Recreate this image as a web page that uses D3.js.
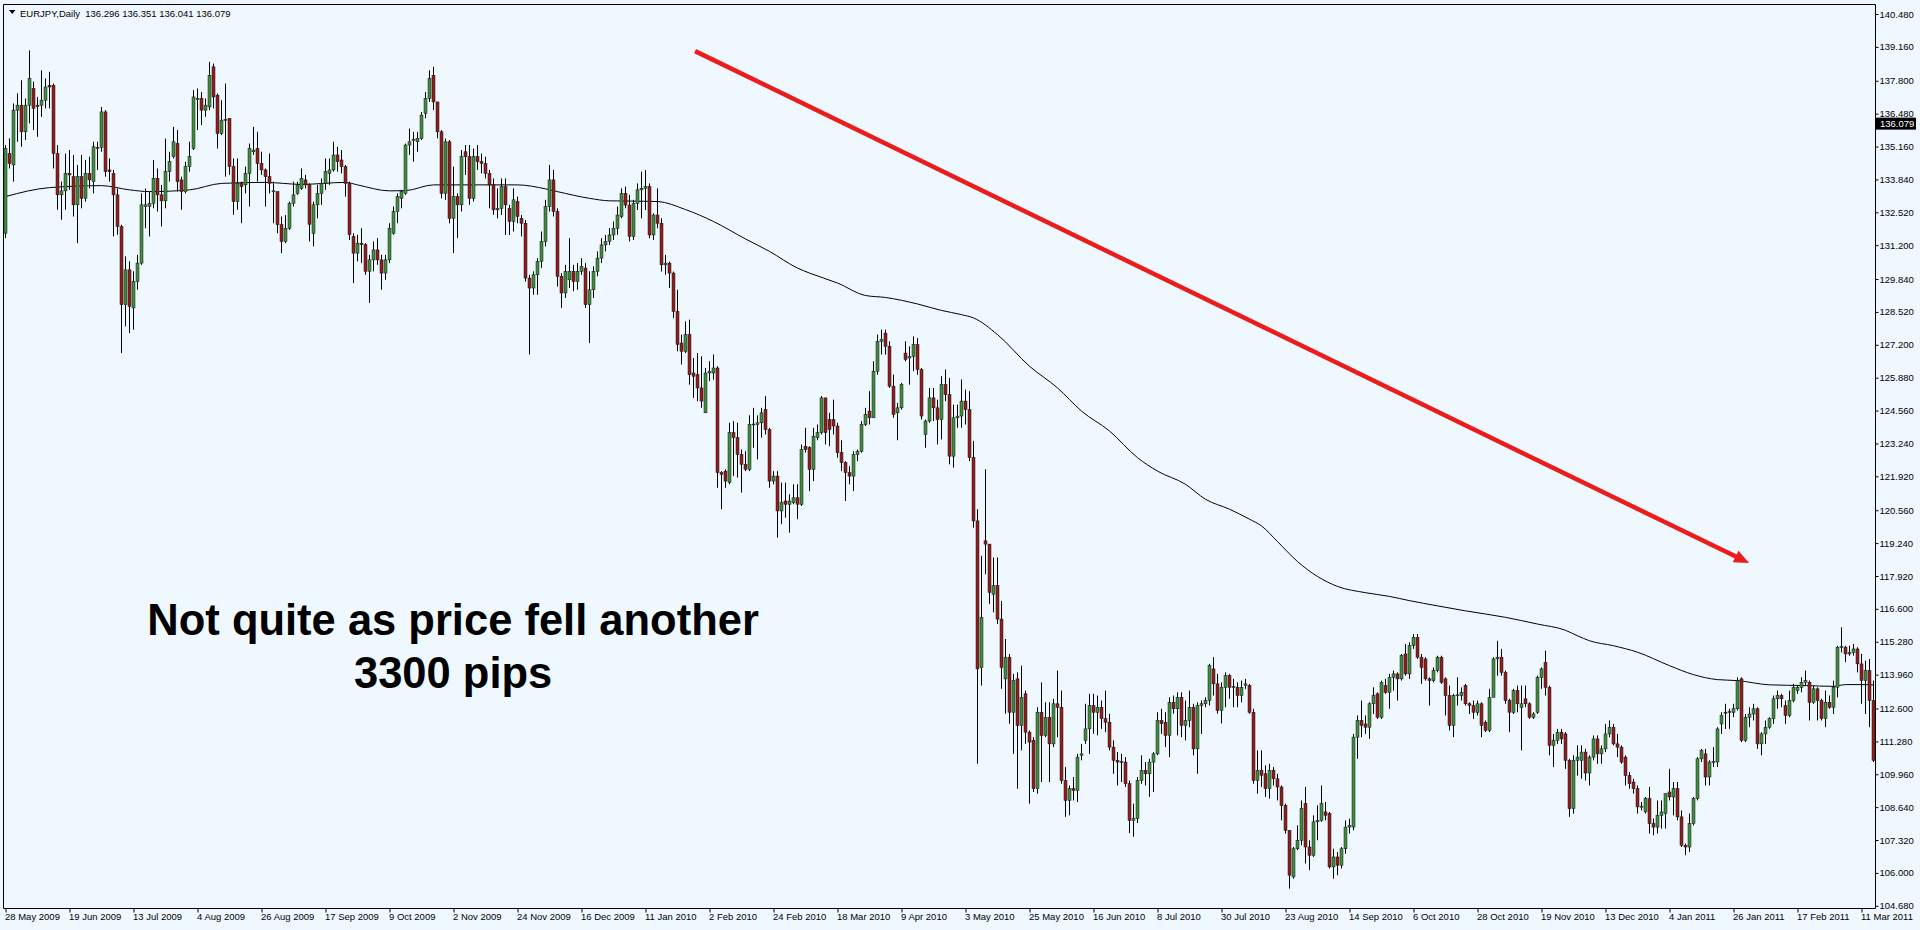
<!DOCTYPE html>
<html><head><meta charset="utf-8">
<script src="https://cdn.jsdelivr.net/npm/d3@7"></script>
<style>
html,body{margin:0;padding:0;background:#f0f8ff;overflow:hidden}
svg{display:block}
</style></head><body>
<svg id="c" width="1920" height="930"></svg>
<script>
const dateLabels = ["28 May 2009","19 Jun 2009","13 Jul 2009","4 Aug 2009","26 Aug 2009","17 Sep 2009","9 Oct 2009","2 Nov 2009","24 Nov 2009","16 Dec 2009","11 Jan 2010","2 Feb 2010","24 Feb 2010","18 Mar 2010","9 Apr 2010","3 May 2010","25 May 2010","16 Jun 2010","8 Jul 2010","30 Jul 2010","23 Aug 2010","14 Sep 2010","6 Oct 2010","28 Oct 2010","19 Nov 2010","13 Dec 2010","4 Jan 2011","26 Jan 2011","17 Feb 2011","11 Mar 2011"];
const barsPerLabel = 16;
const priceTicks = [140.48,139.16,137.8,136.48,135.16,133.84,132.52,131.2,129.84,128.52,127.2,125.88,124.56,123.24,121.92,120.56,119.24,117.92,116.6,115.28,113.96,112.6,111.28,109.96,108.64,107.32,106,104.68];
const headerSymbol = "EURJPY,Daily";
const headerQuote = "136.296 136.351 136.041 136.079";
const lastPrice = 136.079;
const noteLines = ["Not quite as price fell another", "3300 pips"];

const opens = [
131.68,134.88,134.42,136.62,136.82,135.75,136.82,137.49,136.82,136.82,
137.02,137.62,137.62,134.88,133.22,133.38,134.08,133.95,132.82,133.95,
133.08,134.08,133.75,135.12,135.12,136.55,134.22,134.08,133.22,131.95,
128.81,130.21,128.68,129.74,130.48,132.75,132.75,132.88,133.88,133.22,
132.98,134.15,134.75,135.28,133.82,133.35,134.35,135.08,137.09,137.09,
136.62,136.75,138.36,137.22,135.68,136.22,136.29,134.35,132.95,133.68,
133.62,134.08,134.95,135.08,134.48,134.22,133.95,133.35,133.35,132.02,
131.35,131.88,132.88,133.28,133.48,133.82,133.62,131.68,132.82,133.28,
133.68,134.08,134.22,134.82,134.62,134.35,133.68,131.55,130.88,131.28,
131.22,130.15,130.61,131.01,130.61,130.08,130.61,131.68,132.55,133.08,
133.28,135.22,135.42,135.35,135.48,136.49,137.09,138.02,136.95,135.75,
133.28,135.35,132.28,133.15,132.82,134.95,134.75,133.08,134.75,134.55,
134.48,134.08,133.62,132.62,132.68,133.55,132.68,132.15,132.95,132.28,
132.08,129.88,129.48,130.01,130.55,131.35,132.75,133.82,132.55,129.95,
129.28,129.81,130.15,129.74,130.15,130.28,128.81,129.41,130.15,130.68,
131.21,131.35,131.61,131.88,132.35,133.28,132.81,131.55,132.88,133.42,
133.48,133.55,131.61,132.41,132.08,130.41,130.48,130.08,128.54,127.27,
126.94,127.61,126.07,126.00,125.47,124.47,126.07,126.07,126.27,122.07,
122.13,121.67,123.67,123.47,122.80,122.40,122.20,124.00,124.00,124.07,
124.60,123.80,121.73,121.93,120.53,120.93,120.80,120.86,121.06,120.80,
123.13,123.07,122.20,123.47,123.67,125.07,124.20,124.20,123.94,122.87,
122.47,122.07,121.93,122.80,122.93,124.00,124.54,124.27,126.14,127.34,
127.67,127.14,125.54,124.47,124.67,126.87,126.67,126.74,127.21,126.21,
123.60,124.14,125.07,124.67,124.20,125.60,125.20,122.73,124.27,124.34,
124.94,124.60,122.67,120.13,114.25,119.33,119.20,117.19,117.53,116.19,
113.79,114.66,112.45,113.79,111.92,113.19,111.65,111.32,109.38,112.45,
111.52,112.25,111.18,112.79,112.65,109.71,108.91,109.38,109.31,110.72,
111.32,111.78,112.72,112.45,112.65,112.19,112.05,111.05,110.52,110.45,
110.45,109.58,108.11,108.18,109.71,110.12,109.98,110.45,110.78,112.12,
112.05,111.52,112.85,112.59,113.05,111.92,112.12,112.65,110.98,112.72,
112.79,112.92,114.19,113.59,112.52,113.45,113.92,113.45,113.45,113.12,
113.52,113.52,112.45,109.71,110.12,109.98,109.38,110.12,109.78,109.45,
108.71,107.71,105.84,106.97,107.31,108.78,107.04,106.71,108.05,108.11,
108.45,108.38,106.24,106.64,106.31,106.97,107.84,107.84,111.45,112.12,
111.98,111.85,112.79,113.19,112.25,113.52,113.25,113.85,113.99,113.79,
114.79,113.99,115.12,115.46,114.66,114.59,113.79,113.72,114.12,114.66,
113.79,113.12,111.92,113.12,113.12,113.52,112.79,112.72,112.45,112.79,
112.05,111.72,113.05,114.59,114.66,114.05,112.92,112.45,113.32,112.65,
112.99,112.79,112.25,112.45,113.85,114.45,113.45,111.12,111.32,111.65,
111.58,110.52,108.58,110.52,110.52,110.85,110.01,110.65,111.38,110.78,
110.98,111.58,111.85,111.18,111.05,110.65,109.91,109.65,109.38,108.65,
108.45,108.98,107.98,107.84,108.31,108.38,109.25,109.05,109.38,108.25,
107.11,107.04,107.98,108.98,110.58,110.78,109.85,110.45,110.45,111.98,
112.45,112.45,112.45,112.59,113.79,111.32,112.25,112.38,112.59,111.18,
111.58,111.85,112.19,112.99,113.12,112.72,112.32,112.92,113.32,113.45,
113.65,113.65,112.85,113.39,112.92,112.19,112.85,112.65,113.45,115.06,
115.06,114.79,114.85,114.99,114.39,113.72,114.12,112.92];

const highs = [
135.22,135.49,136.89,137.29,137.82,137.09,139.02,137.76,137.15,138.22,
137.89,138.16,137.69,135.22,133.75,134.88,135.02,134.82,134.42,134.82,
134.62,134.75,135.35,135.35,136.75,136.62,134.68,134.22,133.48,132.02,
130.75,130.55,130.15,130.81,133.28,133.48,133.35,134.62,134.28,133.62,
135.48,134.95,135.95,135.82,133.95,134.55,135.35,137.42,137.49,137.35,
137.09,138.56,138.49,137.29,137.02,137.69,136.29,134.68,134.68,133.75,
134.35,135.28,135.95,135.75,134.95,134.28,134.88,133.75,133.35,132.35,
132.41,132.95,133.75,133.75,134.28,134.02,133.68,132.95,133.62,133.88,
134.68,134.68,135.35,135.15,135.02,134.42,133.75,131.68,131.62,131.88,
131.28,130.81,131.35,131.48,130.81,130.81,132.08,132.75,133.28,133.42,
135.28,135.88,135.75,135.75,136.55,137.35,138.22,138.36,136.95,135.82,
135.48,135.42,134.35,133.28,135.02,135.22,135.22,135.08,135.22,134.88,
134.75,134.22,133.88,133.48,133.88,133.88,132.82,133.48,133.15,132.41,
132.21,130.01,130.15,130.68,131.75,133.02,134.42,134.22,132.68,130.08,
130.41,131.48,130.41,130.48,130.68,130.48,130.15,130.35,130.95,131.48,
131.61,131.88,132.15,132.75,133.48,133.55,133.22,133.02,133.68,134.15,
134.22,133.68,132.48,133.48,132.28,130.81,130.54,130.14,129.41,127.61,
128.14,128.21,126.67,126.87,126.74,126.27,126.54,126.81,126.34,122.13,
122.20,124.07,124.14,124.07,123.00,122.93,124.37,124.67,124.37,124.67,
125.14,123.87,122.13,122.13,121.67,121.67,121.20,121.60,121.60,123.20,
123.87,123.13,123.87,124.00,125.14,125.07,124.47,125.00,124.07,123.37,
122.53,122.33,122.93,123.00,124.14,124.67,125.34,126.54,127.61,127.81,
127.81,127.34,126.00,124.87,125.67,127.34,127.14,127.54,127.47,126.27,
124.20,125.47,125.47,125.00,125.94,126.21,125.87,124.80,124.80,125.81,
125.40,125.34,123.34,120.60,118.73,122.20,119.20,118.66,118.66,116.92,
115.39,114.79,113.99,114.05,114.32,113.32,111.72,111.45,112.65,113.65,
112.85,112.85,112.99,114.12,113.32,110.25,109.51,109.85,110.78,111.18,
112.79,113.19,113.19,113.12,112.92,113.32,112.39,111.32,110.85,110.78,
110.65,109.71,108.78,109.85,110.72,110.45,110.58,110.85,112.45,112.59,
112.45,113.05,113.12,113.25,113.25,112.92,113.32,112.79,112.85,112.92,
113.05,114.39,114.66,113.99,113.65,114.05,113.99,113.79,113.65,113.72,
113.79,113.59,112.59,110.92,110.92,110.32,110.38,110.25,109.98,109.51,
108.78,107.71,107.04,107.91,108.91,109.45,107.31,108.31,108.71,109.51,
108.85,108.45,106.97,106.84,107.04,108.11,108.18,111.58,112.32,112.92,
112.32,112.85,113.45,113.25,113.72,113.79,113.99,114.12,114.05,114.79,
115.19,115.26,115.59,115.59,114.79,114.66,113.85,114.25,114.72,114.72,
113.85,113.52,113.19,113.85,113.45,113.59,112.85,112.92,112.92,112.85,
112.12,113.39,114.66,115.32,114.99,114.12,112.99,113.39,113.52,113.52,
113.52,112.85,112.45,113.92,114.25,114.92,113.52,111.58,111.78,111.78,
111.65,110.58,110.72,111.12,111.12,110.98,110.72,111.52,111.52,111.12,
111.98,112.12,111.98,111.58,111.12,110.72,110.05,109.78,109.51,108.85,
109.05,109.45,108.18,108.91,108.91,109.18,110.18,109.65,109.65,108.51,
107.18,108.38,109.05,110.65,110.98,110.98,110.52,111.05,111.85,112.45,
112.79,112.59,112.79,113.85,113.85,112.38,112.65,112.79,112.65,111.65,
112.12,112.25,113.12,113.32,113.19,112.92,113.32,113.59,113.52,113.85,
114.12,113.72,113.52,113.45,112.99,113.32,113.12,113.72,115.12,115.86,
115.12,115.12,115.19,115.06,114.79,114.52,114.59,113.72];

const lows = [
131.48,134.28,133.75,135.35,135.15,135.42,136.09,135.82,135.55,136.35,
136.69,136.69,134.28,132.62,132.22,132.62,133.42,132.35,131.28,132.68,
132.95,133.48,133.28,134.22,134.95,133.95,133.75,131.55,131.62,126.87,
127.94,127.67,127.81,129.41,130.41,131.88,131.55,132.68,132.55,131.95,
132.68,133.75,134.68,133.35,132.62,133.28,134.15,135.02,135.82,136.02,
136.35,136.62,136.69,135.08,135.62,133.95,134.02,132.42,132.62,132.08,
133.28,132.75,134.82,133.75,134.02,132.75,133.28,132.08,131.68,130.88,
131.28,131.81,132.75,133.22,133.42,133.48,131.35,131.15,132.28,132.82,
133.42,133.62,134.15,134.15,134.08,133.15,131.41,129.68,130.55,130.48,
130.01,128.88,130.15,130.41,129.41,129.81,130.48,131.62,132.08,132.68,
133.22,134.82,134.55,134.95,135.42,136.29,136.95,136.62,135.49,133.08,
133.02,132.08,130.88,131.48,132.55,134.02,132.82,132.95,134.22,134.08,
133.88,132.68,132.42,132.28,132.41,131.61,131.61,131.75,132.08,131.55,
129.74,126.81,129.21,129.21,130.28,131.15,132.55,132.35,129.54,128.68,
129.08,129.48,129.35,129.41,130.01,128.68,127.27,129.08,129.95,130.48,
130.95,131.21,131.41,131.61,132.28,132.68,131.35,131.41,132.61,132.28,
132.61,131.48,131.41,131.88,130.14,130.01,129.48,128.27,126.94,126.41,
126.87,125.60,125.07,124.94,124.67,124.47,125.74,125.80,121.46,120.60,
121.46,121.60,121.93,121.87,121.27,122.13,122.13,123.07,122.60,123.47,
123.60,121.46,121.60,119.46,120.00,120.26,119.66,120.80,120.20,120.73,
122.87,121.33,121.73,123.37,123.60,123.20,123.13,123.60,122.67,122.13,
120.93,121.60,121.33,122.53,122.87,123.94,124.00,124.27,126.00,126.81,
126.81,125.47,124.27,123.37,124.60,126.54,125.60,126.14,126.00,124.20,
123.07,124.07,124.14,123.20,123.40,124.94,122.40,122.27,123.87,123.87,
124.00,122.53,119.86,110.38,113.52,117.99,116.79,116.46,115.99,113.39,
112.39,111.99,110.78,109.38,110.92,111.18,108.78,109.25,109.18,109.65,
111.45,109.65,111.05,111.45,109.58,108.25,108.31,108.91,108.85,110.52,
111.18,110.78,111.58,111.52,111.78,111.65,110.92,109.98,109.51,109.65,
109.45,107.60,107.45,108.00,109.58,109.51,109.05,109.25,110.72,111.58,
111.05,110.65,112.39,111.52,111.45,111.32,111.85,110.72,109.98,111.58,
112.65,112.72,113.12,112.39,112.00,112.65,112.99,112.65,112.65,112.85,
113.39,112.39,109.58,109.18,109.45,109.05,108.98,109.51,108.91,108.11,
107.58,105.37,105.77,106.91,107.11,106.38,106.11,106.64,107.31,108.05,
108.11,106.18,105.77,105.91,106.18,106.77,107.58,107.71,110.58,111.45,
111.58,111.38,112.38,112.18,112.18,113.19,112.59,113.32,112.92,113.72,
113.92,113.79,114.99,114.59,113.59,113.72,112.72,113.65,114.05,113.59,
112.32,111.72,111.45,112.72,112.92,112.72,112.38,112.18,112.32,111.45,
111.65,111.65,113.05,113.92,113.92,112.79,111.65,112.38,112.45,110.92,
112.65,112.19,112.18,112.38,113.39,113.12,110.72,110.25,111.18,111.18,
110.18,108.25,108.38,109.91,109.78,109.71,109.51,110.52,110.38,110.38,
110.85,111.45,111.12,110.65,110.38,109.51,109.38,109.18,108.38,108.51,
108.38,107.58,107.51,107.58,107.78,107.78,108.91,108.31,108.11,107.04,
106.71,106.84,107.91,108.91,110.45,109.51,109.51,110.25,110.25,111.58,
111.78,111.78,112.25,112.52,111.25,111.25,111.85,112.12,110.98,110.72,
111.18,111.78,111.98,112.59,112.65,111.98,112.25,112.85,113.19,113.25,
113.52,112.12,112.79,112.12,112.12,111.85,112.59,112.38,113.05,114.85,
114.46,114.72,114.72,114.05,112.79,112.38,111.85,110.45];

const closes = [
135.08,134.48,136.62,136.82,135.75,136.82,137.89,136.69,136.76,137.02,
137.55,137.55,134.88,133.22,133.38,134.08,134.02,132.82,133.95,133.08,
134.08,133.82,135.15,135.08,136.55,134.15,134.15,133.22,131.95,128.81,
130.21,128.74,129.74,130.48,132.82,132.82,132.88,133.88,133.22,132.98,
134.15,134.55,135.35,133.75,133.35,134.35,134.75,137.15,137.09,136.62,
136.82,138.02,137.15,135.68,136.22,136.25,134.35,132.95,133.68,133.55,
134.08,135.08,135.02,134.48,134.22,133.95,133.68,133.38,132.02,131.35,
131.88,132.88,133.22,133.62,133.88,133.62,132.04,132.82,133.28,133.68,
134.15,134.22,134.82,134.55,134.35,133.68,131.62,130.88,131.28,131.22,
130.15,130.61,131.01,130.61,130.08,130.61,131.88,132.55,133.15,133.35,
135.22,135.35,135.45,135.48,136.42,137.09,137.89,136.95,135.75,133.28,
135.35,132.28,133.15,132.82,134.75,134.75,133.08,134.75,134.55,134.48,
134.08,133.62,132.62,132.68,133.55,132.82,132.15,133.02,132.35,132.08,
129.88,129.48,130.01,130.55,131.35,132.75,133.82,132.55,129.95,129.28,
130.15,130.15,129.74,130.15,130.35,128.81,129.41,130.15,130.68,131.21,
131.35,131.61,131.88,132.41,133.28,132.81,131.55,132.88,133.42,133.48,
133.55,131.61,132.41,132.08,130.41,130.48,130.08,128.54,127.21,126.94,
127.61,126.00,125.94,125.47,124.94,126.07,126.14,126.27,122.07,122.00,
121.73,123.67,123.47,122.80,122.40,122.20,124.00,124.02,124.07,124.47,
123.80,121.73,121.93,120.53,120.86,120.80,120.93,121.06,120.80,123.00,
123.00,122.20,123.53,123.67,125.07,123.67,123.80,123.94,122.87,122.47,
122.07,121.93,122.80,122.93,124.00,124.40,124.27,126.14,127.34,127.41,
127.14,125.54,124.40,124.67,125.60,126.61,126.74,127.21,126.21,124.34,
124.14,125.07,124.67,124.20,125.60,125.20,122.73,124.27,124.34,124.94,
124.60,122.67,120.13,114.19,116.26,119.20,117.26,117.53,116.19,114.25,
114.66,112.45,113.72,111.92,113.05,111.65,111.25,109.38,112.45,111.52,
112.25,111.18,112.79,112.65,109.71,108.91,109.38,109.31,110.65,110.78,
111.78,112.72,112.45,112.65,112.19,112.05,111.05,110.52,110.45,110.47,
109.58,108.11,108.18,109.71,110.12,109.98,110.45,110.78,112.12,111.99,
111.52,112.85,112.59,113.05,111.92,112.12,112.65,110.98,112.72,112.79,
112.92,114.32,113.59,112.52,113.45,113.92,113.45,113.48,113.12,113.45,
113.59,112.45,109.71,110.12,109.92,109.38,110.12,109.78,109.45,108.71,
107.71,105.91,106.97,107.31,108.58,107.04,106.71,108.05,108.11,108.78,
108.31,106.24,106.64,106.31,106.97,107.84,107.91,111.45,112.12,111.92,
111.85,112.79,113.12,112.25,113.65,113.25,113.85,113.99,113.79,114.72,
113.99,115.12,115.46,114.66,114.25,113.79,113.72,114.12,114.66,113.65,
113.12,111.92,113.12,113.15,113.25,112.79,112.72,112.45,112.79,111.92,
111.72,113.05,114.59,114.66,114.05,112.92,112.45,113.32,112.79,112.79,
112.79,112.25,112.38,113.85,114.19,113.45,111.12,111.32,111.65,111.38,
110.52,108.58,110.52,110.65,110.85,110.01,110.65,111.38,110.78,110.98,
111.58,111.85,111.18,111.05,110.45,109.91,109.58,109.38,108.65,108.68,
108.98,107.98,107.84,108.31,108.45,109.18,109.05,109.38,108.25,107.11,
107.04,107.98,108.98,110.58,110.92,109.85,110.45,110.48,111.78,112.32,
112.42,112.48,112.59,113.72,111.32,112.25,112.38,112.59,111.18,111.58,
111.85,112.19,112.99,113.12,112.99,112.32,112.92,113.45,113.45,113.65,
113.72,112.85,113.39,112.92,112.19,112.85,112.65,113.45,115.06,115.09,
114.79,114.85,114.99,114.39,113.72,114.12,112.92,110.52];

const maBar = [0,11,24,31,36,46,54,65,74,85,88,96,100,107,128,135,138,146,151,156,163,170,177,185,191,198,201,208,215,220,228,234,239,242,248,256,263,269,276,283,288,295,300,306,311,314,318,323,328,333,340,346,351,358,365,375,383,390,393,396,402,408,416,422,428,433,441,450,457,460,464,467];
const maValue = [133.15,133.51,133.59,133.42,133.35,133.42,133.68,133.72,133.64,133.72,133.62,133.38,133.39,133.62,133.62,133.46,133.35,133.08,132.98,132.97,132.95,132.63,132.15,131.45,130.95,130.28,130.08,129.68,129.18,129.10,128.84,128.58,128.41,128.28,127.61,126.34,125.47,124.54,123.74,122.67,122.13,121.60,121.00,120.60,120.20,119.93,119.30,118.50,117.90,117.50,117.25,117.10,116.93,116.72,116.52,116.26,115.99,115.74,115.52,115.32,115.12,114.86,114.32,113.96,113.76,113.72,113.55,113.52,113.49,113.56,113.56,113.55];

// annotation arrow in data space (bar index, price)
const arrowFrom = [172.4, 138.99];
const arrowTo = [435.9, 118.44];
const noteAnchor = [111.9, 115.55];

const N = closes.length;
const W = 1920, H = 930;
const plot = {left: 3.5, top: 4.5, right: 1875.5, bottom: 908.5};
const svg = d3.select("#c");
const font = "'Liberation Sans', Arial, sans-serif";

svg.append("rect").attr("width", W).attr("height", H).attr("fill", "#f0f8ff");

const x = d3.scaleLinear().domain([0, N - 1]).range([5.5, 5.5 + 4 * (N - 1)]);
const y = d3.scaleLinear().domain([104.68, 140.48]).range([905.8, 14]);

svg.append("clipPath").attr("id", "clip").append("rect")
  .attr("x", plot.left).attr("y", plot.top)
  .attr("width", plot.right - plot.left).attr("height", plot.bottom - plot.top);

const bars = d3.range(N).map(i => ({i, o: opens[i], h: Math.max(highs[i], opens[i], closes[i]), l: Math.min(lows[i], opens[i], closes[i]), c: closes[i]}));

const gc = svg.append("g").attr("clip-path", "url(#clip)");

// moving average
const ma = maBar.map((b, k) => [b, maValue[k]]);
gc.append("path").datum(ma)
  .attr("fill", "none").attr("stroke", "#000").attr("stroke-width", 1)
  .attr("d", d3.line().x(d => x(d[0])).y(d => y(d[1])).curve(d3.curveMonotoneX));

gc.selectAll("line.wick").data(bars).join("line").attr("class", "wick")
  .attr("x1", d => x(d.i)).attr("x2", d => x(d.i))
  .attr("y1", d => y(d.h)).attr("y2", d => y(d.l))
  .attr("stroke", "#000").attr("stroke-width", 1);

gc.selectAll("rect.body").data(bars).join("rect").attr("class", "body")
  .attr("x", d => x(d.i) - 1.5).attr("width", 3)
  .attr("y", d => y(Math.max(d.o, d.c)))
  .attr("height", d => Math.max(1, Math.abs(y(d.o) - y(d.c))))
  .attr("fill", d => d.c >= d.o ? "#3f8f3f" : "#931c1c")
  .attr("stroke", "#151515").attr("stroke-width", 0.5);

// frame
svg.append("path")
  .attr("d", `M${plot.left},${plot.bottom}V${plot.top}H${plot.right}V${plot.bottom}H${plot.left}`)
  .attr("fill", "none").attr("stroke", "#000").attr("stroke-width", 1);

// right price axis
const yAxis = d3.axisRight(y).tickValues(priceTicks).tickFormat(d3.format(".3f")).tickSize(3).tickSizeOuter(0).tickPadding(1);
const ya = svg.append("g").attr("transform", `translate(${plot.right},0)`).call(yAxis);
ya.select(".domain").remove();
ya.selectAll("text").attr("font-family", font).attr("font-size", 9.5).attr("fill", "#000");
ya.selectAll("line").attr("stroke", "#000");

// current price box
const lp = svg.append("g").attr("transform", `translate(${plot.right + 0.5},${y(lastPrice)})`);
lp.append("rect").attr("x", 0).attr("y", -6).attr("width", 40).attr("height", 12).attr("fill", "#000");
lp.append("text").attr("x", 4).attr("y", 0).attr("dy", "0.35em").attr("fill", "#fff")
  .attr("font-family", font).attr("font-size", 9.5).text(d3.format(".3f")(lastPrice));

// bottom time axis
const xAxis = d3.axisBottom(x).tickValues(dateLabels.map((d, k) => k * barsPerLabel))
  .tickFormat((d, k) => dateLabels[k]).tickSize(4).tickSizeOuter(0).tickPadding(1);
const xa = svg.append("g").attr("transform", `translate(0,${plot.bottom})`).call(xAxis);
xa.select(".domain").remove();
xa.selectAll("text").attr("font-family", font).attr("font-size", 9.5).attr("fill", "#000")
  .attr("text-anchor", "start").attr("dx", "-1");
xa.selectAll("line").attr("stroke", "#000");

// header
svg.append("path").attr("d", "M9,10L15.5,10L12.25,14Z").attr("fill", "#000");
svg.append("text").attr("x", 20).attr("y", 17).attr("font-family", font).attr("font-size", 9.5).attr("fill", "#000")
  .text(headerSymbol + "  " + headerQuote).attr("xml:space", "preserve");

// red trend arrow
const ax1 = x(arrowFrom[0]), ay1 = y(arrowFrom[1]), ax2 = x(arrowTo[0]), ay2 = y(arrowTo[1]);
const ang = Math.atan2(ay2 - ay1, ax2 - ax1);
const headL = 15, headW = 6.5;
const bx = ax2 - headL * Math.cos(ang), by = ay2 - headL * Math.sin(ang);
svg.append("line").attr("x1", ax1).attr("y1", ay1).attr("x2", bx + 2 * Math.cos(ang)).attr("y2", by + 2 * Math.sin(ang))
  .attr("stroke", "#ec1c1c").attr("stroke-width", 4.5).attr("stroke-linecap", "butt");
svg.append("path")
  .attr("d", `M${ax2},${ay2}L${bx + headW * Math.sin(ang)},${by - headW * Math.cos(ang)}L${bx - headW * Math.sin(ang)},${by + headW * Math.cos(ang)}Z`)
  .attr("fill", "#ec1c1c");

// annotation text
const note = svg.append("text").attr("font-family", font).attr("font-weight", "bold").attr("font-size", 43.5)
  .attr("fill", "#000").attr("text-anchor", "middle");
noteLines.forEach((t, k) => {
  note.append("tspan").attr("x", x(noteAnchor[0])).attr("y", y(noteAnchor[1]) + k * 53).text(t);
});
</script>
</body></html>
